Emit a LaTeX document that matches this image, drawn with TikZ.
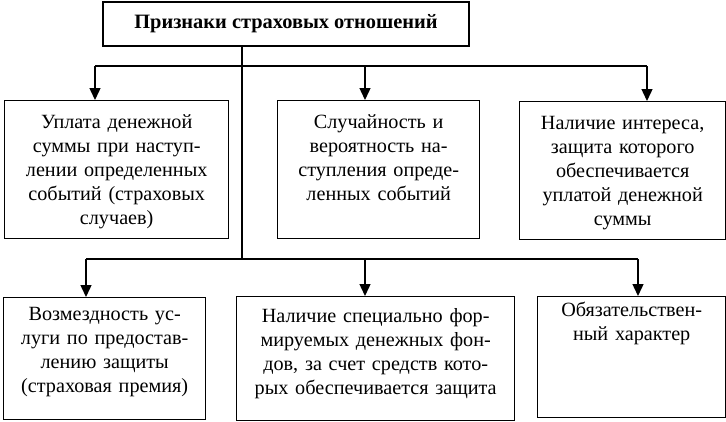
\documentclass[tikz,border=0pt]{standalone}
\usepackage{fontspec}
\setmainfont{Liberation Serif}
\usetikzlibrary{arrows.meta,positioning}

\begin{document}
\begin{tikzpicture}[x=1pt, y=-1pt, line width=1.4pt,
    >={Triangle[length=12pt,width=11pt]},
    box/.style={draw, anchor=north west, align=center, inner xsep=4pt,
    inner ysep=0pt, font=\fontsize{20.2}{24}\selectfont},
    head/.style={draw, inner xsep=4pt, inner ysep=0pt, minimum width=366pt,
    minimum height=44pt, font=\fontsize{20.4}{24}\selectfont\bfseries}]
    \useasboundingbox (0,0) rectangle (726,421);
    \node[head] (T) at (286,24) {Признаки страховых отношений};
    \node[box, text width=216pt, text height=28pt, text depth=110pt] (A) at (4,100)
        {Уплата денежной\\ суммы при наступ-\\ лении определенных\\ событий (страховых\\ случаев)};
    \node[box, text width=194pt, text height=28pt, text depth=110pt] (B) at (277,100)
        {Случайность и\\ вероятность на-\\ ступления опреде-\\ ленных событий};
    \node[box, text width=198pt, text height=28pt, text depth=110pt] (C) at (519,101)
        {Наличие интереса,\\ защита которого\\ обеспечивается\\ уплатой денежной\\ суммы};
    \node[box, text width=194pt, text height=23pt, text depth=99pt] (D) at (3,297)
        {Возмездность ус-\\ луги по предостав-\\ лению защиты\\ (страховая премия)};
    \node[box, text width=270pt, text height=26pt, text depth=98pt] (E) at (236,296)
        {Наличие специально фор-\\ мируемых денежных фон-\\ дов, за счет средств кото-\\ рых обеспечивается защита};
    \node[box, text width=180pt, text height=20pt, text depth=101pt] (F) at (537,296)
        {Обязательствен-\\ ный характер};
    \coordinate (U1) at (95,66);
    \coordinate (U2) at (365,66);
    \coordinate (U3) at (647,66);
    \coordinate (L1) at (86,259);
    \coordinate (L2) at (365,259);
    \coordinate (L3) at (638,259);
    \coordinate (H) at (242,259);
    \draw (T.south -| H) -- (H);
    \draw (U1) -- (U3);
    \draw (L1) -- (L3);
    \draw[->] (U1) -- (U1 |- A.north);
    \draw[->] (U2) -- (U2 |- B.north);
    \draw[->] (U3) -- (U3 |- C.north);
    \draw[->] (L1) -- (L1 |- D.north);
    \draw[->] (L2) -- (L2 |- E.north);
    \draw[->] (L3) -- (L3 |- F.north);
\end{tikzpicture}
\end{document}
